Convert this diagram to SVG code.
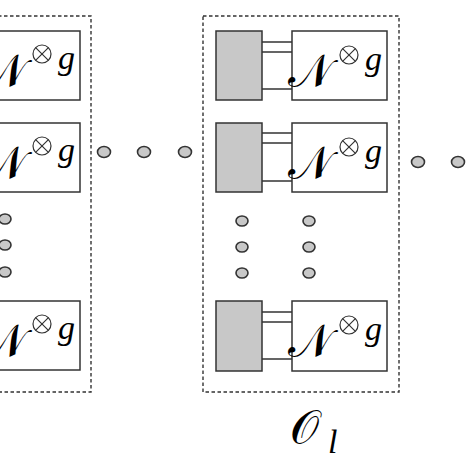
<svg xmlns="http://www.w3.org/2000/svg" width="474" height="474" viewBox="0 0 474 474">
<style>
.dash{fill:none;stroke:#333;stroke-width:1.4;stroke-dasharray:3.5,2.5}
.box{fill:#fff;stroke:#333;stroke-width:1.5}
.grey{fill:#c8c8c8;stroke:#333;stroke-width:1.5}
.dot{fill:#c8c8c8;stroke:#333;stroke-width:1.6}
.wire{stroke:#333;stroke-width:1.5;fill:none}
.cal{font-family:"DejaVu Serif","Liberation Serif",serif;font-size:46px;fill:#000}
.sup{font-family:"Liberation Serif",serif;font-style:italic;font-size:34px;fill:#000}
.otimes{fill:none;stroke:#333;stroke-width:1.2}
</style>
<rect width="474" height="474" fill="#fff"/>
<g id="group-left">
  <rect class="dash" x="-104" y="16" width="195" height="376"/>
  <g id="left-n1"><rect class="box" x="-15" y="31" width="95" height="69"/>
    <text class="cal" x="-18" y="87">𝒩</text>
    <circle class="otimes" cx="42" cy="54" r="9"/><path class="otimes" d="M35.6,47.6L48.4,60.4M48.4,47.6L35.6,60.4"/>
    <text class="sup" x="58" y="69">g</text></g>
  <g id="left-n2"><rect class="box" x="-15" y="123" width="95" height="69"/>
    <text class="cal" x="-18" y="179">𝒩</text>
    <circle class="otimes" cx="42" cy="146" r="9"/><path class="otimes" d="M35.6,139.6L48.4,152.4M48.4,139.6L35.6,152.4"/>
    <text class="sup" x="58" y="161">g</text></g>
  <g id="left-n3"><rect class="box" x="-15" y="301" width="95" height="69"/>
    <text class="cal" x="-18" y="357">𝒩</text>
    <circle class="otimes" cx="42" cy="324" r="9"/><path class="otimes" d="M35.6,317.6L48.4,330.4M48.4,317.6L35.6,330.4"/>
    <text class="sup" x="58" y="339">g</text></g>
  <ellipse class="dot" cx="5" cy="219" rx="6" ry="5"/>
  <ellipse class="dot" cx="5" cy="245" rx="6" ry="5"/>
  <ellipse class="dot" cx="5" cy="272" rx="6" ry="5"/>
</g>
<g id="hdots-left">
  <ellipse class="dot" cx="104" cy="152" rx="6.5" ry="5.5"/>
  <ellipse class="dot" cx="144" cy="152" rx="6.5" ry="5.5"/>
  <ellipse class="dot" cx="185" cy="152" rx="6.5" ry="5.5"/>
</g>
<g id="group-Ol">
  <rect class="dash" x="203" y="16" width="196" height="376"/>
  <g id="connectors">
    <path class="wire" d="M262,42H292M262,52H292M262,89H292"/>
    <path class="wire" d="M262,133H292M262,143H292M262,181H292"/>
    <path class="wire" d="M262,312H292M262,322H292M262,359H292"/>
  </g>
  <g id="grey1"><rect class="grey" x="216" y="31" width="46" height="69"/></g>
  <g id="grey2"><rect class="grey" x="216" y="123" width="46" height="69"/></g>
  <g id="grey3"><rect class="grey" x="216" y="301" width="46" height="70"/></g>
  <g id="n1"><rect class="box" x="292" y="31" width="95" height="69"/>
    <text class="cal" x="288" y="87">𝒩</text>
    <circle class="otimes" cx="349" cy="55" r="9"/><path class="otimes" d="M342.6,48.6L355.4,61.4M355.4,48.6L342.6,61.4"/>
    <text class="sup" x="365" y="70">g</text></g>
  <g id="n2"><rect class="box" x="292" y="123" width="95" height="69"/>
    <text class="cal" x="288" y="179">𝒩</text>
    <circle class="otimes" cx="349" cy="147" r="9"/><path class="otimes" d="M342.6,140.6L355.4,153.4M355.4,140.6L342.6,153.4"/>
    <text class="sup" x="365" y="162">g</text></g>
  <g id="n3"><rect class="box" x="292" y="301" width="95" height="70"/>
    <text class="cal" x="288" y="357">𝒩</text>
    <circle class="otimes" cx="349" cy="325" r="9"/><path class="otimes" d="M342.6,318.6L355.4,331.4M355.4,318.6L342.6,331.4"/>
    <text class="sup" x="365" y="340">g</text></g>
  <ellipse class="dot" cx="242" cy="221" rx="6" ry="5"/>
  <ellipse class="dot" cx="242" cy="247" rx="6" ry="5"/>
  <ellipse class="dot" cx="242" cy="273" rx="6" ry="5"/>
  <ellipse class="dot" cx="309" cy="221" rx="6" ry="5"/>
  <ellipse class="dot" cx="309" cy="247" rx="6" ry="5"/>
  <ellipse class="dot" cx="309" cy="273" rx="6" ry="5"/>
  <text class="cal" x="290" y="443" font-size="44">𝒪</text>
  <text class="sup" x="328" y="453" font-size="26">l</text>
</g>
<g id="hdots-right">
  <ellipse class="dot" cx="418" cy="162" rx="6.5" ry="5.5"/>
  <ellipse class="dot" cx="458" cy="162" rx="6.5" ry="5.5"/>
</g>
</svg>
